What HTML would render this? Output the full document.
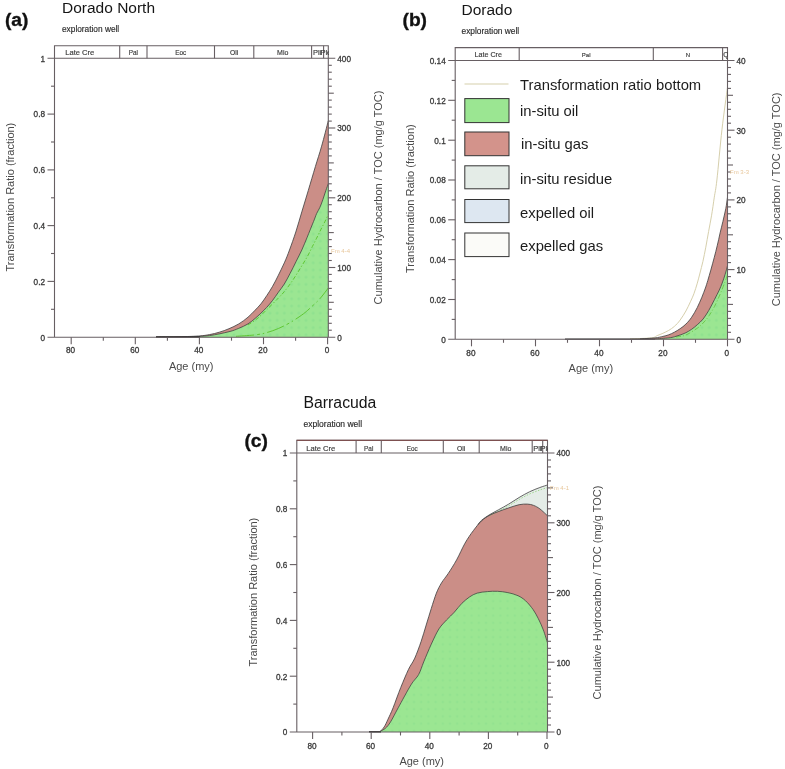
<!DOCTYPE html>
<html lang="en"><head><meta charset="utf-8"><title>Transformation ratio and cumulative hydrocarbon plots</title>
<style>html,body{margin:0;padding:0;background:#fff}body{width:785px;height:769px;overflow:hidden}svg{display:block;filter:blur(0.35px)}text{font-family:'Liberation Sans', Arial, Helvetica, sans-serif}</style></head><body>
<svg width="785" height="769" viewBox="0 0 785 769">
<defs>
<pattern id="gp" width="7.2" height="7.2" patternUnits="userSpaceOnUse"><rect width="7.2" height="7.2" fill="#9be692"/><circle cx="3.6" cy="3.6" r="1.5" fill="#86dc8c" opacity="0.55"/></pattern>
<pattern id="gp2" width="7.2" height="7.2" patternUnits="userSpaceOnUse"><rect width="7.2" height="7.2" fill="#9be692"/><circle cx="3.6" cy="3.6" r="1.3" fill="#86dc8c" opacity="0.4"/></pattern>
</defs>
<rect width="785" height="769" fill="#fff"/>
<g id="panel-a">
<path d="M156.0 336.9 C160.8 336.8 177.7 336.8 185.0 336.6 C192.3 336.4 195.7 336.2 199.8 335.9 C203.9 335.6 206.2 335.2 209.5 334.6 C212.8 334.0 216.1 333.2 219.3 332.2 C222.6 331.2 225.8 330.1 229.0 328.7 C232.2 327.3 235.6 325.8 238.8 323.9 C242.0 322.0 245.3 319.5 248.0 317.2 C250.7 314.9 252.8 312.5 255.0 310.3 C257.1 308.1 258.9 306.3 260.9 303.9 C262.8 301.5 264.8 298.6 266.7 295.7 C268.6 292.8 270.7 289.7 272.6 286.3 C274.6 282.9 276.4 279.1 278.4 275.2 C280.3 271.3 282.4 267.1 284.3 262.9 C286.2 258.7 287.6 255.2 289.5 250.0 C291.4 244.8 293.7 238.5 295.8 232.0 C297.9 225.5 299.9 218.1 302.0 211.2 C304.1 204.3 306.1 197.8 308.3 190.4 C310.5 183.0 313.2 173.9 315.4 166.5 C317.6 159.1 319.5 153.8 321.6 146.2 C323.8 138.6 327.2 125.0 328.3 120.7 L328.3 337.2 L156.0 337.2 Z" fill="#cb8e87" stroke="none" />
<path d="M190.0 336.9 C193.2 336.7 203.0 336.5 209.5 335.6 C216.0 334.7 224.1 332.9 229.0 331.7 C233.9 330.5 235.6 329.6 238.8 328.3 C242.0 327.0 245.3 325.5 248.0 323.9 C250.7 322.3 252.8 320.3 255.0 318.5 C257.1 316.7 258.9 315.1 260.9 313.2 C262.8 311.3 264.8 309.5 266.7 307.4 C268.6 305.3 270.7 302.9 272.6 300.4 C274.6 297.9 276.4 294.9 278.4 292.2 C280.3 289.5 282.4 287.1 284.3 284.0 C286.2 280.9 288.2 277.1 290.1 273.4 C292.1 269.7 294.1 265.6 296.0 261.7 C297.9 257.8 299.9 254.1 301.8 250.0 C303.7 245.9 305.2 241.9 307.2 237.2 C309.1 232.5 311.9 225.5 313.5 221.6 C315.1 217.7 315.6 215.9 316.6 213.6 C317.6 211.3 318.7 210.1 319.7 207.8 C320.7 205.5 321.8 202.7 322.8 199.8 C323.8 196.9 325.0 193.1 325.9 190.4 C326.8 187.7 328.0 184.7 328.4 183.6 L328.3 337.2 L190.0 337.2 Z" fill="url(#gp)" stroke="none" />
<path d="M248.0 325.0 C249.7 323.8 254.9 320.6 258.0 318.0 C261.1 315.4 263.3 313.0 266.7 309.7 C270.1 306.4 275.5 301.0 278.4 298.0 C281.3 295.0 282.4 293.9 284.3 291.6 C286.2 289.3 288.2 286.7 290.1 284.0 C292.1 281.3 294.1 278.2 296.0 275.2 C297.9 272.2 299.9 269.0 301.8 265.8 C303.8 262.6 305.9 259.1 307.7 255.9 C309.5 252.7 310.9 249.4 312.4 246.5 C313.9 243.6 315.2 241.0 316.6 238.2 C318.0 235.4 319.3 232.7 320.7 229.9 C322.1 227.1 323.6 224.2 324.9 221.6 C326.2 219.0 327.8 215.5 328.4 214.3" fill="none" stroke="#5fc733" stroke-width="1.0" stroke-dasharray="4 2 1.2 2" opacity="1"/>
<path d="M236.0 336.3 C239.2 336.1 249.9 335.5 255.0 334.9 C260.1 334.3 262.8 333.7 266.7 332.6 C270.6 331.5 274.5 330.2 278.4 328.5 C282.3 326.8 286.2 324.9 290.1 322.6 C294.0 320.4 298.9 317.1 301.8 315.0 C304.7 312.9 305.8 312.0 307.7 310.3 C309.6 308.6 311.4 306.9 313.5 305.0 C315.6 303.1 317.5 301.4 320.0 298.6 C322.5 295.8 326.9 289.8 328.3 288.0" fill="none" stroke="#5fc733" stroke-width="1.0" stroke-dasharray="18 3 3 3 1.5 3" opacity="1"/>
<path d="M190.0 336.9 C193.2 336.7 203.0 336.5 209.5 335.6 C216.0 334.7 224.1 332.9 229.0 331.7 C233.9 330.5 235.6 329.6 238.8 328.3 C242.0 327.0 245.3 325.5 248.0 323.9 C250.7 322.3 252.8 320.3 255.0 318.5 C257.1 316.7 258.9 315.1 260.9 313.2 C262.8 311.3 264.8 309.5 266.7 307.4 C268.6 305.3 270.7 302.9 272.6 300.4 C274.6 297.9 276.4 294.9 278.4 292.2 C280.3 289.5 282.4 287.1 284.3 284.0 C286.2 280.9 288.2 277.1 290.1 273.4 C292.1 269.7 294.1 265.6 296.0 261.7 C297.9 257.8 299.9 254.1 301.8 250.0 C303.7 245.9 305.2 241.9 307.2 237.2 C309.1 232.5 311.9 225.5 313.5 221.6 C315.1 217.7 315.6 215.9 316.6 213.6 C317.6 211.3 318.7 210.1 319.7 207.8 C320.7 205.5 321.8 202.7 322.8 199.8 C323.8 196.9 325.0 193.1 325.9 190.4 C326.8 187.7 328.0 184.7 328.4 183.6" fill="none" stroke="#3c3c3c" stroke-width="0.75" opacity="1"/>
<path d="M156.0 336.9 C160.8 336.8 177.7 336.8 185.0 336.6 C192.3 336.4 195.7 336.2 199.8 335.9 C203.9 335.6 206.2 335.2 209.5 334.6 C212.8 334.0 216.1 333.2 219.3 332.2 C222.6 331.2 225.8 330.1 229.0 328.7 C232.2 327.3 235.6 325.8 238.8 323.9 C242.0 322.0 245.3 319.5 248.0 317.2 C250.7 314.9 252.8 312.5 255.0 310.3 C257.1 308.1 258.9 306.3 260.9 303.9 C262.8 301.5 264.8 298.6 266.7 295.7 C268.6 292.8 270.7 289.7 272.6 286.3 C274.6 282.9 276.4 279.1 278.4 275.2 C280.3 271.3 282.4 267.1 284.3 262.9 C286.2 258.7 287.6 255.2 289.5 250.0 C291.4 244.8 293.7 238.5 295.8 232.0 C297.9 225.5 299.9 218.1 302.0 211.2 C304.1 204.3 306.1 197.8 308.3 190.4 C310.5 183.0 313.2 173.9 315.4 166.5 C317.6 159.1 319.5 153.8 321.6 146.2 C323.8 138.6 327.2 125.0 328.3 120.7" fill="none" stroke="#3c3c3c" stroke-width="0.8" opacity="1"/>
<path d="M156 337 L200 337" stroke="#222" stroke-width="1.6"/>
<g stroke="#675f63" stroke-width="1.1" fill="none">
<path d="M54.5 337.2 L54.5 45.7 L328.3 45.7 L328.3 337.2 M47.5 58.3 L335.3 58.3 M47.5 337.2 L335.3 337.2"/>
<path d="M119.7 45.7 L119.7 58.3"/>
<path d="M147 45.7 L147 58.3"/>
<path d="M214.5 45.7 L214.5 58.3"/>
<path d="M253.8 45.7 L253.8 58.3"/>
<path d="M311.6 45.7 L311.6 58.3"/>
<path d="M323.6 45.7 L323.6 58.3"/>
<path d="M51.0 309.3 L54.5 309.3"/>
<path d="M47.5 281.4 L54.5 281.4"/>
<path d="M51.0 253.5 L54.5 253.5"/>
<path d="M47.5 225.6 L54.5 225.6"/>
<path d="M51.0 197.8 L54.5 197.8"/>
<path d="M47.5 169.9 L54.5 169.9"/>
<path d="M51.0 142.0 L54.5 142.0"/>
<path d="M47.5 114.1 L54.5 114.1"/>
<path d="M51.0 86.2 L54.5 86.2"/>
<path d="M328.3 330.2 L331.8 330.2"/>
<path d="M328.3 323.3 L331.8 323.3"/>
<path d="M328.3 316.3 L331.8 316.3"/>
<path d="M328.3 309.3 L331.8 309.3"/>
<path d="M328.3 302.3 L333.8 302.3"/>
<path d="M328.3 295.4 L331.8 295.4"/>
<path d="M328.3 288.4 L331.8 288.4"/>
<path d="M328.3 281.4 L331.8 281.4"/>
<path d="M328.3 274.4 L331.8 274.4"/>
<path d="M328.3 267.5 L335.3 267.5"/>
<path d="M328.3 260.5 L331.8 260.5"/>
<path d="M328.3 253.5 L331.8 253.5"/>
<path d="M328.3 246.6 L331.8 246.6"/>
<path d="M328.3 239.6 L331.8 239.6"/>
<path d="M328.3 232.6 L333.8 232.6"/>
<path d="M328.3 225.6 L331.8 225.6"/>
<path d="M328.3 218.7 L331.8 218.7"/>
<path d="M328.3 211.7 L331.8 211.7"/>
<path d="M328.3 204.7 L331.8 204.7"/>
<path d="M328.3 197.8 L335.3 197.8"/>
<path d="M328.3 190.8 L331.8 190.8"/>
<path d="M328.3 183.8 L331.8 183.8"/>
<path d="M328.3 176.8 L331.8 176.8"/>
<path d="M328.3 169.9 L331.8 169.9"/>
<path d="M328.3 162.9 L333.8 162.9"/>
<path d="M328.3 155.9 L331.8 155.9"/>
<path d="M328.3 148.9 L331.8 148.9"/>
<path d="M328.3 142.0 L331.8 142.0"/>
<path d="M328.3 135.0 L331.8 135.0"/>
<path d="M328.3 128.0 L335.3 128.0"/>
<path d="M328.3 121.1 L331.8 121.1"/>
<path d="M328.3 114.1 L331.8 114.1"/>
<path d="M328.3 107.1 L331.8 107.1"/>
<path d="M328.3 100.1 L331.8 100.1"/>
<path d="M328.3 93.2 L333.8 93.2"/>
<path d="M328.3 86.2 L331.8 86.2"/>
<path d="M328.3 79.2 L331.8 79.2"/>
<path d="M328.3 72.2 L331.8 72.2"/>
<path d="M328.3 65.3 L331.8 65.3"/>
<path d="M327.6 337.2 L327.6 344.2"/>
<path d="M295.6 337.2 L295.6 340.7"/>
<path d="M263.5 337.2 L263.5 344.2"/>
<path d="M231.5 337.2 L231.5 340.7"/>
<path d="M199.4 337.2 L199.4 344.2"/>
<path d="M167.4 337.2 L167.4 340.7"/>
<path d="M135.3 337.2 L135.3 344.2"/>
<path d="M103.3 337.2 L103.3 340.7"/>
<path d="M71.2 337.2 L71.2 344.2"/>
</g>
<clipPath id="cla"><rect x="54.5" y="45.7" width="274.3" height="12.599999999999994"/></clipPath>
<g clip-path="url(#cla)" fill="#3a3a3a" stroke="#3a3a3a" stroke-width="0.15">
<text x="79.8" y="54.6" font-size="7.6" text-anchor="middle">Late Cre</text>
<text x="133.3" y="54.6" font-size="6.4" text-anchor="middle">Pal</text>
<text x="180.8" y="54.6" font-size="6.4" text-anchor="middle">Eoc</text>
<text x="234.2" y="54.6" font-size="6.8" text-anchor="middle">Oli</text>
<text x="282.7" y="54.6" font-size="7" text-anchor="middle">Mio</text>
<text x="312.9" y="54.6" font-size="7.5" text-anchor="start">Pli</text>
<text x="320.4" y="54.6" font-size="7.5" text-anchor="start">Ple</text>
</g>
<g font-size="8.2" fill="#3a3a3a" stroke="#3a3a3a" stroke-width="0.3" text-anchor="end">
<text x="45.0" y="340.5">0</text>
<text x="45.0" y="284.7">0.2</text>
<text x="45.0" y="228.9">0.4</text>
<text x="45.0" y="173.2">0.6</text>
<text x="45.0" y="117.4">0.8</text>
<text x="45.0" y="61.6">1</text>
</g>
<g font-size="8.2" fill="#3a3a3a" stroke="#3a3a3a" stroke-width="0.3" text-anchor="start">
<text x="337.3" y="340.5">0</text>
<text x="337.3" y="270.8">100</text>
<text x="337.3" y="201.1">200</text>
<text x="337.3" y="131.3">300</text>
<text x="337.3" y="61.6">400</text>
</g>
<g font-size="8.2" fill="#3a3a3a" stroke="#3a3a3a" stroke-width="0.3" text-anchor="middle">
<text x="327.0" y="353.3">0</text>
<text x="262.9" y="353.3">20</text>
<text x="198.8" y="353.3">40</text>
<text x="134.7" y="353.3">60</text>
<text x="70.6" y="353.3">80</text>
</g>
<text x="191.2" y="369.8" font-size="11" fill="#4a4a4a" text-anchor="middle">Age (my)</text>
<text transform="translate(14.4 197.1) rotate(-90)" font-size="11" fill="#4a4a4a" text-anchor="middle">Transformation Ratio (fraction)</text>
<text transform="translate(381.7 197.5) rotate(-90)" font-size="11" fill="#4a4a4a" text-anchor="middle">Cumulative Hydrocarbon / TOC (mg/g TOC)</text>
<text x="62" y="13.4" font-size="15.5" fill="#151515">Dorado North</text>
<text x="62" y="31.5" font-size="8.3" fill="#2a2a2a" stroke="#2a2a2a" stroke-width="0.15">exploration well</text>
<text x="4.9" y="25.6" font-size="19.2" font-weight="bold" fill="#111" stroke="#111" stroke-width="0.35">(a)</text>
<text x="331" y="253" font-size="6" fill="#e8c79c">Fm 4-4</text>
</g>
<g id="panel-b">
<path d="M630.0 338.9 C633.6 338.7 647.0 338.4 651.5 337.9 C656.0 337.3 655.3 336.4 657.2 335.6 C659.1 334.8 661.0 334.2 662.9 333.3 C664.8 332.4 666.8 331.5 668.7 330.4 C670.6 329.2 672.5 328.1 674.4 326.4 C676.3 324.7 678.2 322.7 680.1 320.1 C682.0 317.5 684.2 314.1 685.9 311.0 C687.6 307.9 689.1 304.7 690.4 301.8 C691.7 298.9 692.8 296.9 693.9 293.8 C695.0 290.7 696.3 286.7 697.3 283.2 C698.3 279.7 699.1 276.6 700.0 273.0 C700.9 269.4 701.9 265.8 702.9 261.5 C703.9 257.2 704.8 252.2 705.8 247.2 C706.8 242.2 707.6 236.7 708.6 231.5 C709.6 226.3 710.5 221.5 711.5 215.8 C712.5 210.1 713.4 203.2 714.3 197.2 C715.2 191.2 715.6 191.3 716.9 180.0 C718.2 168.7 720.2 144.6 722.0 129.2 C723.8 113.7 726.6 94.3 727.5 87.3" fill="none" stroke="#d6cfac" stroke-width="1.0" opacity="1"/>
<path d="M640.0 338.9 C642.5 338.7 651.1 338.3 654.9 337.9 C658.7 337.5 660.6 336.9 662.9 336.4 C665.2 335.9 666.8 335.5 668.7 334.8 C670.6 334.1 672.5 333.2 674.4 332.2 C676.3 331.2 678.2 330.0 680.1 328.7 C682.0 327.4 684.0 326.0 685.9 324.1 C687.8 322.2 689.7 320.1 691.6 317.3 C693.5 314.5 695.6 310.9 697.3 307.5 C699.0 304.1 700.5 300.4 701.9 297.2 C703.2 293.9 704.4 290.8 705.4 288.0 C706.4 285.2 706.9 283.5 707.8 280.5 C708.7 277.5 709.7 274.0 710.8 270.1 C711.9 266.2 713.2 261.4 714.3 257.3 C715.4 253.2 716.2 249.9 717.2 245.8 C718.2 241.7 719.2 237.0 720.1 232.9 C721.0 228.8 722.0 225.6 722.9 221.5 C723.8 217.4 725.0 212.7 725.8 208.6 C726.6 204.5 727.2 199.1 727.5 197.2 L727.5 339.3 L640.0 339.3 Z" fill="#cb8e87" stroke="none" />
<path d="M655.0 338.9 C657.3 338.7 665.5 338.2 668.7 337.9 C671.9 337.5 672.5 337.3 674.4 336.8 C676.3 336.3 678.2 335.7 680.1 335.0 C682.0 334.3 684.0 333.6 685.9 332.7 C687.8 331.8 689.7 330.6 691.6 329.3 C693.5 328.0 695.4 326.4 697.3 324.7 C699.2 323.0 701.2 321.4 703.1 319.0 C705.0 316.6 706.9 313.6 708.8 310.4 C710.7 307.1 712.8 302.9 714.5 299.5 C716.2 296.1 718.0 292.8 719.3 290.0 C720.6 287.2 721.2 285.6 722.2 283.0 C723.2 280.4 724.2 277.3 725.1 274.4 C726.0 271.5 727.1 267.2 727.5 265.8 L727.5 339.3 L655.0 339.3 Z" fill="url(#gp)" stroke="none" />
<path d="M676.0 337.0 C677.6 336.7 682.4 336.5 685.9 335.0 C689.4 333.5 694.4 330.2 697.3 328.2 C700.2 326.2 701.2 325.0 703.1 323.0 C705.0 321.0 706.9 318.9 708.8 316.1 C710.7 313.3 712.6 310.1 714.5 306.4 C716.4 302.7 718.6 297.8 720.3 293.8 C722.0 289.8 723.6 285.4 724.8 282.3 C726.0 279.2 727.0 276.2 727.5 275.0" fill="none" stroke="#63c13a" stroke-width="0.8" stroke-dasharray="5 2 1 2" opacity="1"/>
<path d="M655.0 338.9 C657.3 338.7 665.5 338.2 668.7 337.9 C671.9 337.5 672.5 337.3 674.4 336.8 C676.3 336.3 678.2 335.7 680.1 335.0 C682.0 334.3 684.0 333.6 685.9 332.7 C687.8 331.8 689.7 330.6 691.6 329.3 C693.5 328.0 695.4 326.4 697.3 324.7 C699.2 323.0 701.2 321.4 703.1 319.0 C705.0 316.6 706.9 313.6 708.8 310.4 C710.7 307.1 712.8 302.9 714.5 299.5 C716.2 296.1 718.0 292.8 719.3 290.0 C720.6 287.2 721.2 285.6 722.2 283.0 C723.2 280.4 724.2 277.3 725.1 274.4 C726.0 271.5 727.1 267.2 727.5 265.8" fill="none" stroke="#3c3c3c" stroke-width="0.75" opacity="1"/>
<path d="M640.0 338.9 C642.5 338.7 651.1 338.3 654.9 337.9 C658.7 337.5 660.6 336.9 662.9 336.4 C665.2 335.9 666.8 335.5 668.7 334.8 C670.6 334.1 672.5 333.2 674.4 332.2 C676.3 331.2 678.2 330.0 680.1 328.7 C682.0 327.4 684.0 326.0 685.9 324.1 C687.8 322.2 689.7 320.1 691.6 317.3 C693.5 314.5 695.6 310.9 697.3 307.5 C699.0 304.1 700.5 300.4 701.9 297.2 C703.2 293.9 704.4 290.8 705.4 288.0 C706.4 285.2 706.9 283.5 707.8 280.5 C708.7 277.5 709.7 274.0 710.8 270.1 C711.9 266.2 713.2 261.4 714.3 257.3 C715.4 253.2 716.2 249.9 717.2 245.8 C718.2 241.7 719.2 237.0 720.1 232.9 C721.0 228.8 722.0 225.6 722.9 221.5 C723.8 217.4 725.0 212.7 725.8 208.6 C726.6 204.5 727.2 199.1 727.5 197.2" fill="none" stroke="#3c3c3c" stroke-width="0.8" opacity="1"/>
<path d="M565 339.1 L655 339.1" stroke="#333" stroke-width="1.4"/>
<g stroke="#675f63" stroke-width="1.1" fill="none">
<path d="M455.2 339.3 L455.2 47.6 L727.5 47.6 L727.5 339.3 M448.2 60.5 L734.5 60.5 M448.2 339.3 L734.5 339.3"/>
<path d="M519.2 47.6 L519.2 60.5"/>
<path d="M653.3 47.6 L653.3 60.5"/>
<path d="M722.6 47.6 L722.6 60.5"/>
<path d="M451.7 319.4 L455.2 319.4"/>
<path d="M448.2 299.5 L455.2 299.5"/>
<path d="M451.7 279.6 L455.2 279.6"/>
<path d="M448.2 259.6 L455.2 259.6"/>
<path d="M451.7 239.7 L455.2 239.7"/>
<path d="M448.2 219.8 L455.2 219.8"/>
<path d="M451.7 199.9 L455.2 199.9"/>
<path d="M448.2 180.0 L455.2 180.0"/>
<path d="M451.7 160.1 L455.2 160.1"/>
<path d="M448.2 140.2 L455.2 140.2"/>
<path d="M451.7 120.2 L455.2 120.2"/>
<path d="M448.2 100.3 L455.2 100.3"/>
<path d="M451.7 80.4 L455.2 80.4"/>
<path d="M727.5 332.3 L731.0 332.3"/>
<path d="M727.5 325.4 L731.0 325.4"/>
<path d="M727.5 318.4 L731.0 318.4"/>
<path d="M727.5 311.4 L731.0 311.4"/>
<path d="M727.5 304.4 L733.0 304.4"/>
<path d="M727.5 297.5 L731.0 297.5"/>
<path d="M727.5 290.5 L731.0 290.5"/>
<path d="M727.5 283.5 L731.0 283.5"/>
<path d="M727.5 276.6 L731.0 276.6"/>
<path d="M727.5 269.6 L734.5 269.6"/>
<path d="M727.5 262.6 L731.0 262.6"/>
<path d="M727.5 255.7 L731.0 255.7"/>
<path d="M727.5 248.7 L731.0 248.7"/>
<path d="M727.5 241.7 L731.0 241.7"/>
<path d="M727.5 234.8 L733.0 234.8"/>
<path d="M727.5 227.8 L731.0 227.8"/>
<path d="M727.5 220.8 L731.0 220.8"/>
<path d="M727.5 213.8 L731.0 213.8"/>
<path d="M727.5 206.9 L731.0 206.9"/>
<path d="M727.5 199.9 L734.5 199.9"/>
<path d="M727.5 192.9 L731.0 192.9"/>
<path d="M727.5 186.0 L731.0 186.0"/>
<path d="M727.5 179.0 L731.0 179.0"/>
<path d="M727.5 172.0 L731.0 172.0"/>
<path d="M727.5 165.0 L733.0 165.0"/>
<path d="M727.5 158.1 L731.0 158.1"/>
<path d="M727.5 151.1 L731.0 151.1"/>
<path d="M727.5 144.1 L731.0 144.1"/>
<path d="M727.5 137.2 L731.0 137.2"/>
<path d="M727.5 130.2 L734.5 130.2"/>
<path d="M727.5 123.2 L731.0 123.2"/>
<path d="M727.5 116.3 L731.0 116.3"/>
<path d="M727.5 109.3 L731.0 109.3"/>
<path d="M727.5 102.3 L731.0 102.3"/>
<path d="M727.5 95.3 L733.0 95.3"/>
<path d="M727.5 88.4 L731.0 88.4"/>
<path d="M727.5 81.4 L731.0 81.4"/>
<path d="M727.5 74.4 L731.0 74.4"/>
<path d="M727.5 67.5 L731.0 67.5"/>
<path d="M727.5 339.3 L727.5 346.3"/>
<path d="M695.5 339.3 L695.5 342.8"/>
<path d="M663.5 339.3 L663.5 346.3"/>
<path d="M631.5 339.3 L631.5 342.8"/>
<path d="M599.5 339.3 L599.5 346.3"/>
<path d="M567.5 339.3 L567.5 342.8"/>
<path d="M535.5 339.3 L535.5 346.3"/>
<path d="M503.5 339.3 L503.5 342.8"/>
<path d="M471.5 339.3 L471.5 346.3"/>
</g>
<clipPath id="clb"><rect x="455.2" y="47.6" width="272.8" height="12.899999999999999"/></clipPath>
<g clip-path="url(#clb)" fill="#3a3a3a" stroke="#3a3a3a" stroke-width="0.15">
<text x="488.2" y="57.1" font-size="7.2" text-anchor="middle">Late Cre</text>
<text x="586.2" y="57.1" font-size="6" text-anchor="middle">Pal</text>
<text x="688.0" y="57.1" font-size="6" text-anchor="middle">N</text>
<text x="723.3" y="57.1" font-size="7" text-anchor="start">Q</text>
</g>
<g font-size="8.2" fill="#3a3a3a" stroke="#3a3a3a" stroke-width="0.3" text-anchor="end">
<text x="445.7" y="342.6">0</text>
<text x="445.7" y="302.8">0.02</text>
<text x="445.7" y="262.9">0.04</text>
<text x="445.7" y="223.1">0.06</text>
<text x="445.7" y="183.3">0.08</text>
<text x="445.7" y="143.5">0.1</text>
<text x="445.7" y="103.6">0.12</text>
<text x="445.7" y="63.8">0.14</text>
</g>
<g font-size="8.2" fill="#3a3a3a" stroke="#3a3a3a" stroke-width="0.3" text-anchor="start">
<text x="736.5" y="342.6">0</text>
<text x="736.5" y="272.9">10</text>
<text x="736.5" y="203.2">20</text>
<text x="736.5" y="133.5">30</text>
<text x="736.5" y="63.8">40</text>
</g>
<g font-size="8.2" fill="#3a3a3a" stroke="#3a3a3a" stroke-width="0.3" text-anchor="middle">
<text x="726.9" y="355.8">0</text>
<text x="662.9" y="355.8">20</text>
<text x="598.9" y="355.8">40</text>
<text x="534.9" y="355.8">60</text>
<text x="470.9" y="355.8">80</text>
</g>
<text x="590.9" y="371.9" font-size="11" fill="#4a4a4a" text-anchor="middle">Age (my)</text>
<text transform="translate(413.7 198.7) rotate(-90)" font-size="11" fill="#4a4a4a" text-anchor="middle">Transformation Ratio (fraction)</text>
<text transform="translate(780.3 199.4) rotate(-90)" font-size="11" fill="#4a4a4a" text-anchor="middle">Cumulative Hydrocarbon / TOC (mg/g TOC)</text>
<text x="461.5" y="15.4" font-size="15.5" fill="#151515">Dorado</text>
<text x="461.5" y="33.9" font-size="8.4" fill="#2a2a2a" stroke="#2a2a2a" stroke-width="0.15">exploration well</text>
<text x="402.5" y="25.6" font-size="19.2" font-weight="bold" fill="#111" stroke="#111" stroke-width="0.35">(b)</text>
<text x="730" y="173.5" font-size="6" fill="#e8c79c">Fm 3-3</text>
<path d="M464.5 84 L508.5 84" stroke="#d6cfac" stroke-width="1.1"/>
<text x="520" y="89.5" font-size="14.8" fill="#1c1c1c">Transformation ratio bottom</text>
<rect x="464.8" y="98.6" width="44.2" height="24.0" fill="#9be692" stroke="#333" stroke-width="1"/>
<text x="520" y="116.3" font-size="14.8" fill="#1c1c1c">in-situ oil</text>
<rect x="464.8" y="132" width="44.2" height="23.7" fill="#d3938b" stroke="#333" stroke-width="1"/>
<text x="521" y="149.4" font-size="14.8" fill="#1c1c1c">in-situ gas</text>
<rect x="464.8" y="165.8" width="44.2" height="23.0" fill="#e4ece7" stroke="#333" stroke-width="1"/>
<text x="520" y="183.9" font-size="14.8" fill="#1c1c1c">in-situ residue</text>
<rect x="464.8" y="199.5" width="44.2" height="23.1" fill="#dde7f1" stroke="#333" stroke-width="1"/>
<text x="520" y="218.2" font-size="14.8" fill="#1c1c1c">expelled oil</text>
<rect x="464.8" y="233" width="44.2" height="23.6" fill="#fbfbf8" stroke="#333" stroke-width="1"/>
<text x="520" y="250.5" font-size="14.8" fill="#1c1c1c">expelled gas</text>
</g>
<g id="panel-c">
<path d="M478.0 524.5 C478.6 523.8 479.6 522.0 481.6 520.3 C483.6 518.6 487.1 516.2 489.9 514.5 C492.7 512.8 495.2 511.6 498.3 509.9 C501.4 508.2 505.2 506.2 508.7 504.1 C512.2 502.0 515.6 499.6 519.1 497.5 C522.6 495.4 526.0 493.5 529.5 491.8 C533.0 490.1 536.9 488.6 539.9 487.5 C542.9 486.4 546.2 485.4 547.5 485.0 L547.5 530.0 L478.0 530.0 Z" fill="#e4ece7" stroke="none" />
<path d="M380.4 731.2 C381.0 730.5 382.9 728.9 384.2 726.9 C385.5 724.9 386.5 722.4 388.0 719.2 C389.5 716.0 391.0 713.1 393.1 707.8 C395.2 702.5 398.2 693.8 400.8 687.4 C403.4 681.0 406.1 674.5 408.4 669.6 C410.7 664.7 412.7 662.8 414.8 658.1 C416.9 653.4 419.2 647.0 421.1 641.5 C423.0 636.0 424.5 630.5 426.2 625.0 C427.9 619.5 429.6 613.7 431.3 608.4 C433.0 603.1 434.7 597.4 436.4 593.1 C438.1 588.9 439.5 586.2 441.5 582.9 C443.5 579.6 445.8 577.2 448.3 573.4 C450.8 569.6 453.8 564.9 456.6 559.9 C459.4 554.9 462.2 548.1 465.0 543.2 C467.8 538.3 470.5 534.4 473.3 530.7 C476.1 527.0 478.8 523.4 481.6 520.8 C484.4 518.2 487.1 516.6 489.9 515.1 C492.7 513.6 495.2 512.8 498.3 511.6 C501.4 510.4 505.2 509.0 508.7 507.9 C512.2 506.8 516.0 505.3 519.1 504.7 C522.2 504.1 525.0 504.0 527.4 504.1 C529.8 504.2 531.5 504.6 533.6 505.4 C535.7 506.2 537.6 507.2 539.9 508.9 C542.2 510.6 546.2 514.6 547.5 515.8 L547.5 732.0 L380.4 732.0 Z" fill="#cb8e87" stroke="none" />
<path d="M380.4 731.2 C381.2 730.7 383.8 729.8 385.5 728.2 C387.2 726.6 388.5 725.2 390.6 721.8 C392.7 718.4 394.8 714.0 398.2 707.8 C401.6 701.6 407.6 690.3 411.0 684.8 C414.4 679.3 416.5 678.4 418.6 674.6 C420.7 670.8 421.6 667.0 423.7 661.9 C425.8 656.8 428.8 649.6 431.3 644.1 C433.9 638.6 436.4 632.8 439.0 628.8 C441.6 624.8 444.1 622.7 446.6 619.9 C449.2 617.1 451.8 615.0 454.3 612.2 C456.9 609.4 459.3 605.8 461.9 603.3 C464.4 600.8 467.1 598.6 469.6 596.9 C472.2 595.2 474.2 594.0 477.2 593.1 C480.2 592.2 484.0 591.9 487.4 591.6 C490.8 591.3 494.2 591.1 497.6 591.3 C501.0 591.5 504.4 591.9 507.8 592.6 C511.2 593.3 515.0 594.3 518.0 595.7 C521.0 597.1 523.1 598.5 525.6 600.8 C528.1 603.1 531.1 606.7 533.2 609.7 C535.3 612.7 536.6 615.2 538.3 618.6 C540.0 622.0 541.9 626.1 543.4 630.1 C544.9 634.1 546.8 640.7 547.5 642.8 L547.5 732.0 L380.4 732.0 Z" fill="url(#gp2)" stroke="none" />
<path d="M489.9 515.5 C491.3 514.8 495.2 512.8 498.3 511.2 C501.4 509.6 505.2 507.8 508.7 505.8 C512.2 503.9 515.6 501.5 519.1 499.5 C522.6 497.5 526.0 495.6 529.5 494.0 C533.0 492.4 536.9 491.1 539.9 490.0 C542.9 488.9 546.2 487.9 547.5 487.5" fill="none" stroke="#8fd07a" stroke-width="0.8" stroke-dasharray="1.5 1.5" opacity="1"/>
<path d="M478.0 524.5 C478.6 523.8 479.6 522.0 481.6 520.3 C483.6 518.6 487.1 516.2 489.9 514.5 C492.7 512.8 495.2 511.6 498.3 509.9 C501.4 508.2 505.2 506.2 508.7 504.1 C512.2 502.0 515.6 499.6 519.1 497.5 C522.6 495.4 526.0 493.5 529.5 491.8 C533.0 490.1 536.9 488.6 539.9 487.5 C542.9 486.4 546.2 485.4 547.5 485.0" fill="none" stroke="#555" stroke-width="0.9" opacity="1"/>
<path d="M380.4 731.2 C381.2 730.7 383.8 729.8 385.5 728.2 C387.2 726.6 388.5 725.2 390.6 721.8 C392.7 718.4 394.8 714.0 398.2 707.8 C401.6 701.6 407.6 690.3 411.0 684.8 C414.4 679.3 416.5 678.4 418.6 674.6 C420.7 670.8 421.6 667.0 423.7 661.9 C425.8 656.8 428.8 649.6 431.3 644.1 C433.9 638.6 436.4 632.8 439.0 628.8 C441.6 624.8 444.1 622.7 446.6 619.9 C449.2 617.1 451.8 615.0 454.3 612.2 C456.9 609.4 459.3 605.8 461.9 603.3 C464.4 600.8 467.1 598.6 469.6 596.9 C472.2 595.2 474.2 594.0 477.2 593.1 C480.2 592.2 484.0 591.9 487.4 591.6 C490.8 591.3 494.2 591.1 497.6 591.3 C501.0 591.5 504.4 591.9 507.8 592.6 C511.2 593.3 515.0 594.3 518.0 595.7 C521.0 597.1 523.1 598.5 525.6 600.8 C528.1 603.1 531.1 606.7 533.2 609.7 C535.3 612.7 536.6 615.2 538.3 618.6 C540.0 622.0 541.9 626.1 543.4 630.1 C544.9 634.1 546.8 640.7 547.5 642.8" fill="none" stroke="#3c3c3c" stroke-width="0.75" opacity="1"/>
<path d="M380.4 731.2 C381.0 730.5 382.9 728.9 384.2 726.9 C385.5 724.9 386.5 722.4 388.0 719.2 C389.5 716.0 391.0 713.1 393.1 707.8 C395.2 702.5 398.2 693.8 400.8 687.4 C403.4 681.0 406.1 674.5 408.4 669.6 C410.7 664.7 412.7 662.8 414.8 658.1 C416.9 653.4 419.2 647.0 421.1 641.5 C423.0 636.0 424.5 630.5 426.2 625.0 C427.9 619.5 429.6 613.7 431.3 608.4 C433.0 603.1 434.7 597.4 436.4 593.1 C438.1 588.9 439.5 586.2 441.5 582.9 C443.5 579.6 445.8 577.2 448.3 573.4 C450.8 569.6 453.8 564.9 456.6 559.9 C459.4 554.9 462.2 548.1 465.0 543.2 C467.8 538.3 470.5 534.4 473.3 530.7 C476.1 527.0 478.8 523.4 481.6 520.8 C484.4 518.2 487.1 516.6 489.9 515.1 C492.7 513.6 495.2 512.8 498.3 511.6 C501.4 510.4 505.2 509.0 508.7 507.9 C512.2 506.8 516.0 505.3 519.1 504.7 C522.2 504.1 525.0 504.0 527.4 504.1 C529.8 504.2 531.5 504.6 533.6 505.4 C535.7 506.2 537.6 507.2 539.9 508.9 C542.2 510.6 546.2 514.6 547.5 515.8" fill="none" stroke="#3c3c3c" stroke-width="0.8" opacity="1"/>
<path d="M369 731.8 L381 731.8" stroke="#222" stroke-width="1.5"/>
<g stroke="#675f63" stroke-width="1.1" fill="none">
<path d="M296.8 732 L296.8 440.4 L547.5 440.4 L547.5 732 M289.8 453 L554.5 453 M289.8 732 L554.5 732"/>
<path d="M296.8 440.4 L547.5 440.4" stroke="#7d5050"/>
<path d="M356.1 440.4 L356.1 453"/>
<path d="M381.3 440.4 L381.3 453"/>
<path d="M443.3 440.4 L443.3 453"/>
<path d="M479.2 440.4 L479.2 453"/>
<path d="M532.2 440.4 L532.2 453"/>
<path d="M542.7 440.4 L542.7 453"/>
<path d="M293.3 704.1 L296.8 704.1"/>
<path d="M289.8 676.2 L296.8 676.2"/>
<path d="M293.3 648.3 L296.8 648.3"/>
<path d="M289.8 620.4 L296.8 620.4"/>
<path d="M293.3 592.5 L296.8 592.5"/>
<path d="M289.8 564.6 L296.8 564.6"/>
<path d="M293.3 536.7 L296.8 536.7"/>
<path d="M289.8 508.8 L296.8 508.8"/>
<path d="M293.3 480.9 L296.8 480.9"/>
<path d="M547.5 725.0 L551.0 725.0"/>
<path d="M547.5 718.0 L551.0 718.0"/>
<path d="M547.5 711.1 L551.0 711.1"/>
<path d="M547.5 704.1 L551.0 704.1"/>
<path d="M547.5 697.1 L553.0 697.1"/>
<path d="M547.5 690.1 L551.0 690.1"/>
<path d="M547.5 683.2 L551.0 683.2"/>
<path d="M547.5 676.2 L551.0 676.2"/>
<path d="M547.5 669.2 L551.0 669.2"/>
<path d="M547.5 662.2 L554.5 662.2"/>
<path d="M547.5 655.3 L551.0 655.3"/>
<path d="M547.5 648.3 L551.0 648.3"/>
<path d="M547.5 641.3 L551.0 641.3"/>
<path d="M547.5 634.4 L551.0 634.4"/>
<path d="M547.5 627.4 L553.0 627.4"/>
<path d="M547.5 620.4 L551.0 620.4"/>
<path d="M547.5 613.4 L551.0 613.4"/>
<path d="M547.5 606.5 L551.0 606.5"/>
<path d="M547.5 599.5 L551.0 599.5"/>
<path d="M547.5 592.5 L554.5 592.5"/>
<path d="M547.5 585.5 L551.0 585.5"/>
<path d="M547.5 578.5 L551.0 578.5"/>
<path d="M547.5 571.6 L551.0 571.6"/>
<path d="M547.5 564.6 L551.0 564.6"/>
<path d="M547.5 557.6 L553.0 557.6"/>
<path d="M547.5 550.6 L551.0 550.6"/>
<path d="M547.5 543.7 L551.0 543.7"/>
<path d="M547.5 536.7 L551.0 536.7"/>
<path d="M547.5 529.7 L551.0 529.7"/>
<path d="M547.5 522.8 L554.5 522.8"/>
<path d="M547.5 515.8 L551.0 515.8"/>
<path d="M547.5 508.8 L551.0 508.8"/>
<path d="M547.5 501.8 L551.0 501.8"/>
<path d="M547.5 494.9 L551.0 494.9"/>
<path d="M547.5 487.9 L553.0 487.9"/>
<path d="M547.5 480.9 L551.0 480.9"/>
<path d="M547.5 473.9 L551.0 473.9"/>
<path d="M547.5 466.9 L551.0 466.9"/>
<path d="M547.5 460.0 L551.0 460.0"/>
<path d="M547.0 732 L547.0 739"/>
<path d="M517.7 732 L517.7 735.5"/>
<path d="M488.4 732 L488.4 739"/>
<path d="M459.1 732 L459.1 735.5"/>
<path d="M429.8 732 L429.8 739"/>
<path d="M400.5 732 L400.5 735.5"/>
<path d="M371.2 732 L371.2 739"/>
<path d="M341.9 732 L341.9 735.5"/>
<path d="M312.6 732 L312.6 739"/>
</g>
<clipPath id="clc"><rect x="296.8" y="440.4" width="251.2" height="12.600000000000023"/></clipPath>
<g clip-path="url(#clc)" fill="#3a3a3a" stroke="#3a3a3a" stroke-width="0.15">
<text x="320.8" y="450.5" font-size="7.6" text-anchor="middle">Late Cre</text>
<text x="368.7" y="450.5" font-size="6.4" text-anchor="middle">Pal</text>
<text x="412.3" y="450.5" font-size="6.4" text-anchor="middle">Eoc</text>
<text x="461.2" y="450.5" font-size="6.8" text-anchor="middle">Oli</text>
<text x="505.7" y="450.5" font-size="7" text-anchor="middle">Mio</text>
<text x="533.2" y="450.5" font-size="7.5" text-anchor="start">Pli</text>
<text x="540.6" y="450.5" font-size="7.5" text-anchor="start">Ple</text>
</g>
<g font-size="8.2" fill="#3a3a3a" stroke="#3a3a3a" stroke-width="0.3" text-anchor="end">
<text x="287.3" y="735.3">0</text>
<text x="287.3" y="679.5">0.2</text>
<text x="287.3" y="623.7">0.4</text>
<text x="287.3" y="567.9">0.6</text>
<text x="287.3" y="512.1">0.8</text>
<text x="287.3" y="456.3">1</text>
</g>
<g font-size="8.2" fill="#3a3a3a" stroke="#3a3a3a" stroke-width="0.3" text-anchor="start">
<text x="556.5" y="735.3">0</text>
<text x="556.5" y="665.5">100</text>
<text x="556.5" y="595.8">200</text>
<text x="556.5" y="526.0">300</text>
<text x="556.5" y="456.3">400</text>
</g>
<g font-size="8.2" fill="#3a3a3a" stroke="#3a3a3a" stroke-width="0.3" text-anchor="middle">
<text x="546.4" y="748.9">0</text>
<text x="487.8" y="748.9">20</text>
<text x="429.2" y="748.9">40</text>
<text x="370.6" y="748.9">60</text>
<text x="312.0" y="748.9">80</text>
</g>
<text x="421.7" y="764.7" font-size="11" fill="#4a4a4a" text-anchor="middle">Age (my)</text>
<text transform="translate(256.5 592.1) rotate(-90)" font-size="11" fill="#4a4a4a" text-anchor="middle">Transformation Ratio (fraction)</text>
<text transform="translate(600.6 592.5) rotate(-90)" font-size="11" fill="#4a4a4a" text-anchor="middle">Cumulative Hydrocarbon / TOC (mg/g TOC)</text>
<text x="303.5" y="408.3" font-size="15.8" fill="#151515">Barracuda</text>
<text x="303.5" y="427.0" font-size="8.5" fill="#2a2a2a" stroke="#2a2a2a" stroke-width="0.15">exploration well</text>
<text x="244.4" y="447.3" font-size="19.2" font-weight="bold" fill="#111" stroke="#111" stroke-width="0.35">(c)</text>
<text x="550" y="490" font-size="6" fill="#e8c79c">Fm 4-1</text>
</g>
</svg></body></html>
